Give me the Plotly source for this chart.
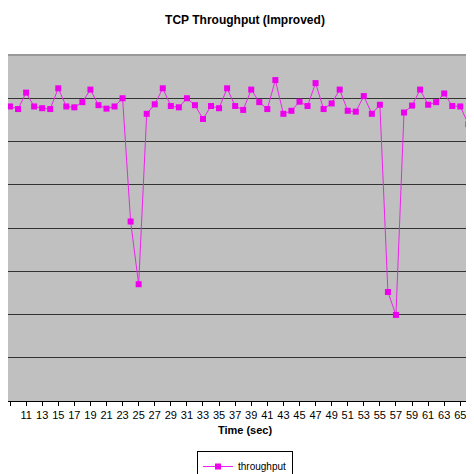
import plotly.graph_objects as go

# time in seconds
time_sec = list(range(9, 68))
throughput = [
    6.81, 6.75, 7.13, 6.81, 6.77, 6.75, 7.23, 6.81, 6.79, 6.91,
    7.20, 6.84, 6.76, 6.81, 7.00, 4.15, 2.70, 6.64, 6.86, 7.23,
    6.82, 6.79, 7.00, 6.84, 6.52, 6.82, 6.77, 7.23, 6.82, 6.73,
    7.20, 6.91, 6.75, 7.42, 6.64, 6.71, 6.92, 6.82, 7.35, 6.75,
    6.88, 7.20, 6.71, 6.69, 7.05, 6.64, 6.85, 2.52, 1.99, 6.67,
    6.83, 7.20, 6.85, 6.91, 7.11, 6.82, 6.81, 6.40, 6.88,
]
tick_vals = list(range(9, 68, 2))

fig = go.Figure()
fig.add_trace(go.Scatter(
    x=time_sec, y=throughput, name="throughput",
    mode="lines+markers",
    line=dict(color="#ee22ee", width=1),
    marker=dict(symbol="square", size=6, color="#ee00ee"),
))

fig.update_layout(
    width=474, height=474,
    margin=dict(l=0, r=0, t=47, b=71),
    paper_bgcolor="white", plot_bgcolor="#c0c0c0",
    font=dict(family="Liberation Sans, Arial", size=11, color="black"),
    title=dict(text="<b>TCP Throughput (Improved)</b>", x=0.5, y=0.985,
               xanchor="center", yanchor="top", font=dict(size=12)),
    xaxis=dict(range=[8.75, 67.7], tickvals=tick_vals, showgrid=False,
               automargin=False,
               ticks="outside", ticklen=4, tickcolor="black",
               showline=True, linecolor="black", zeroline=False,
               title=dict(text="<b>Time (sec)</b>", standoff=6, font=dict(size=11))),
    yaxis=dict(range=[0, 8], dtick=1, showticklabels=False, automargin=False,
               showgrid=True, gridcolor="#333333", gridwidth=1,
               zeroline=False, showline=False),
    showlegend=True,
    legend=dict(orientation="h", x=0.5, xanchor="center", y=-0.145, yanchor="top",
                bordercolor="black", borderwidth=1, bgcolor="white",
                font=dict(size=10)),
)
fig.add_shape(type="line", xref="paper", yref="paper", x0=0, x1=1, y0=1, y1=1,
              line=dict(color="#999999", width=2))

fig.write_html("out.html")
